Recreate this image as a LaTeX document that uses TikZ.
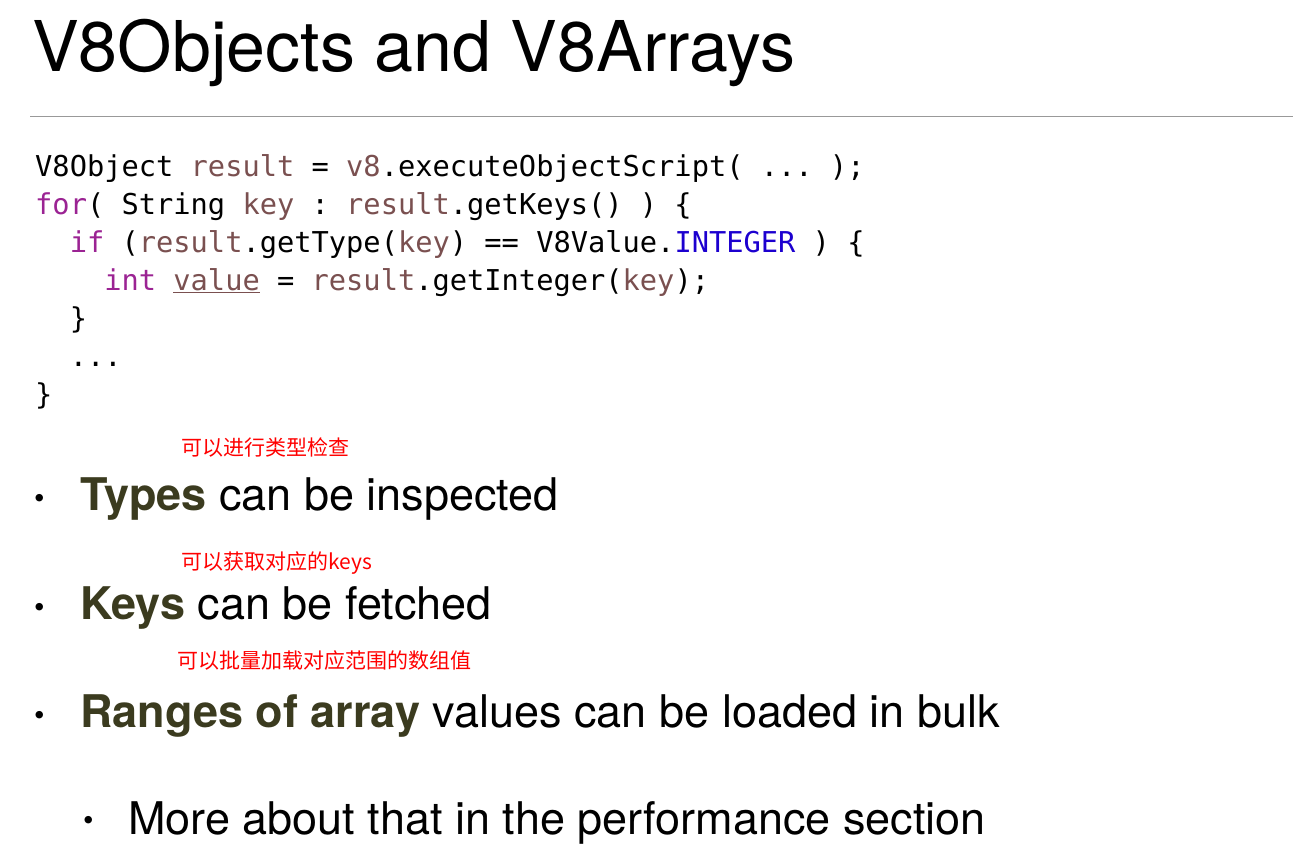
\documentclass[tikz,border=0pt]{standalone}
\usepackage{fontspec}
\setmainfont{TeX Gyre Heros}
\setmonofont{DejaVu Sans Mono}
\newfontfamily\cjk{Noto Sans CJK SC}
\definecolor{var}{HTML}{7A5050}
\definecolor{kw}{HTML}{9B2393}
\definecolor{cst}{HTML}{1C00CF}
\definecolor{olive}{HTML}{3B3B1F}
\newcommand{\V}[1]{\textcolor{var}{#1}}
\newcommand{\K}[1]{\textcolor{kw}{#1}}
\begin{document}
\begin{tikzpicture}[x=1pt,y=-1pt,
 code/.style={anchor=base west,inner sep=0pt,font=\fontsize{28.7}{30}\ttfamily},
 note/.style={anchor=base west,inner sep=0pt,text=red,font=\fontsize{21}{24}\cjk},
 bul/.style={anchor=base west,inner sep=0pt,font=\fontsize{45}{50}\selectfont},
 dot/.style={anchor=base west,inner sep=0pt,font=\fontsize{30}{30}\selectfont}]
\useasboundingbox (0,0) rectangle (1315,851);
\node[anchor=base west,inner sep=0pt,font=\fontsize{70}{72}\selectfont] (title) at (32,72) {V8Objects and V8Arrays};
\draw[gray!80,line width=1pt] (30,116) -- (1293,116);
\node[code] (c1) at (35,176) {V8Object \V{result} = \V{v8}.executeObjectScript( ... );};
\node[code] (c2) at (35,214) {\K{for}( String \V{key} : \V{result}.getKeys() ) \{};
\node[code] (c3) at (35,252) {\phantom{xx}\K{if} (\V{result}.getType(\V{key}) == V8Value.\textcolor{cst}{INTEGER} ) \{};
\node[code] (c4) at (35,290) {\phantom{xxxx}\K{int} \textcolor{var}{\underline{value}} = \V{result}.getInteger(\V{key});};
\node[code] (c5) at (35,328) {\phantom{xx}\}};
\node[code] (c6) at (35,366) {\phantom{xx}...};
\node[code] (c7) at (35,404) {\}};
\node[note] (n1) at (181,455) {可以进行类型检查};
\node[dot] (d1) at (34,508) {•};
\node[bul] (b1) at (80,510) {\textcolor{olive}{\bfseries Types} can be inspected};
\node[note] (n2) at (181,569) {可以获取对应的keys};
\node[dot] (d2) at (34,617) {•};
\node[bul] (b2) at (80,619) {\textcolor{olive}{\bfseries Keys} can be fetched};
\node[note] (n3) at (177,668) {可以批量加载对应范围的数组值};
\node[dot] (d3) at (34,725) {•};
\node[bul] (b3) at (80,727) {\textcolor{olive}{\bfseries Ranges of array} values can be loaded in bulk};
\node[dot] (d4) at (83,830) {•};
\node[bul] (b4) at (128,834) {More about that in the performance section};
\end{tikzpicture}
\end{document}
